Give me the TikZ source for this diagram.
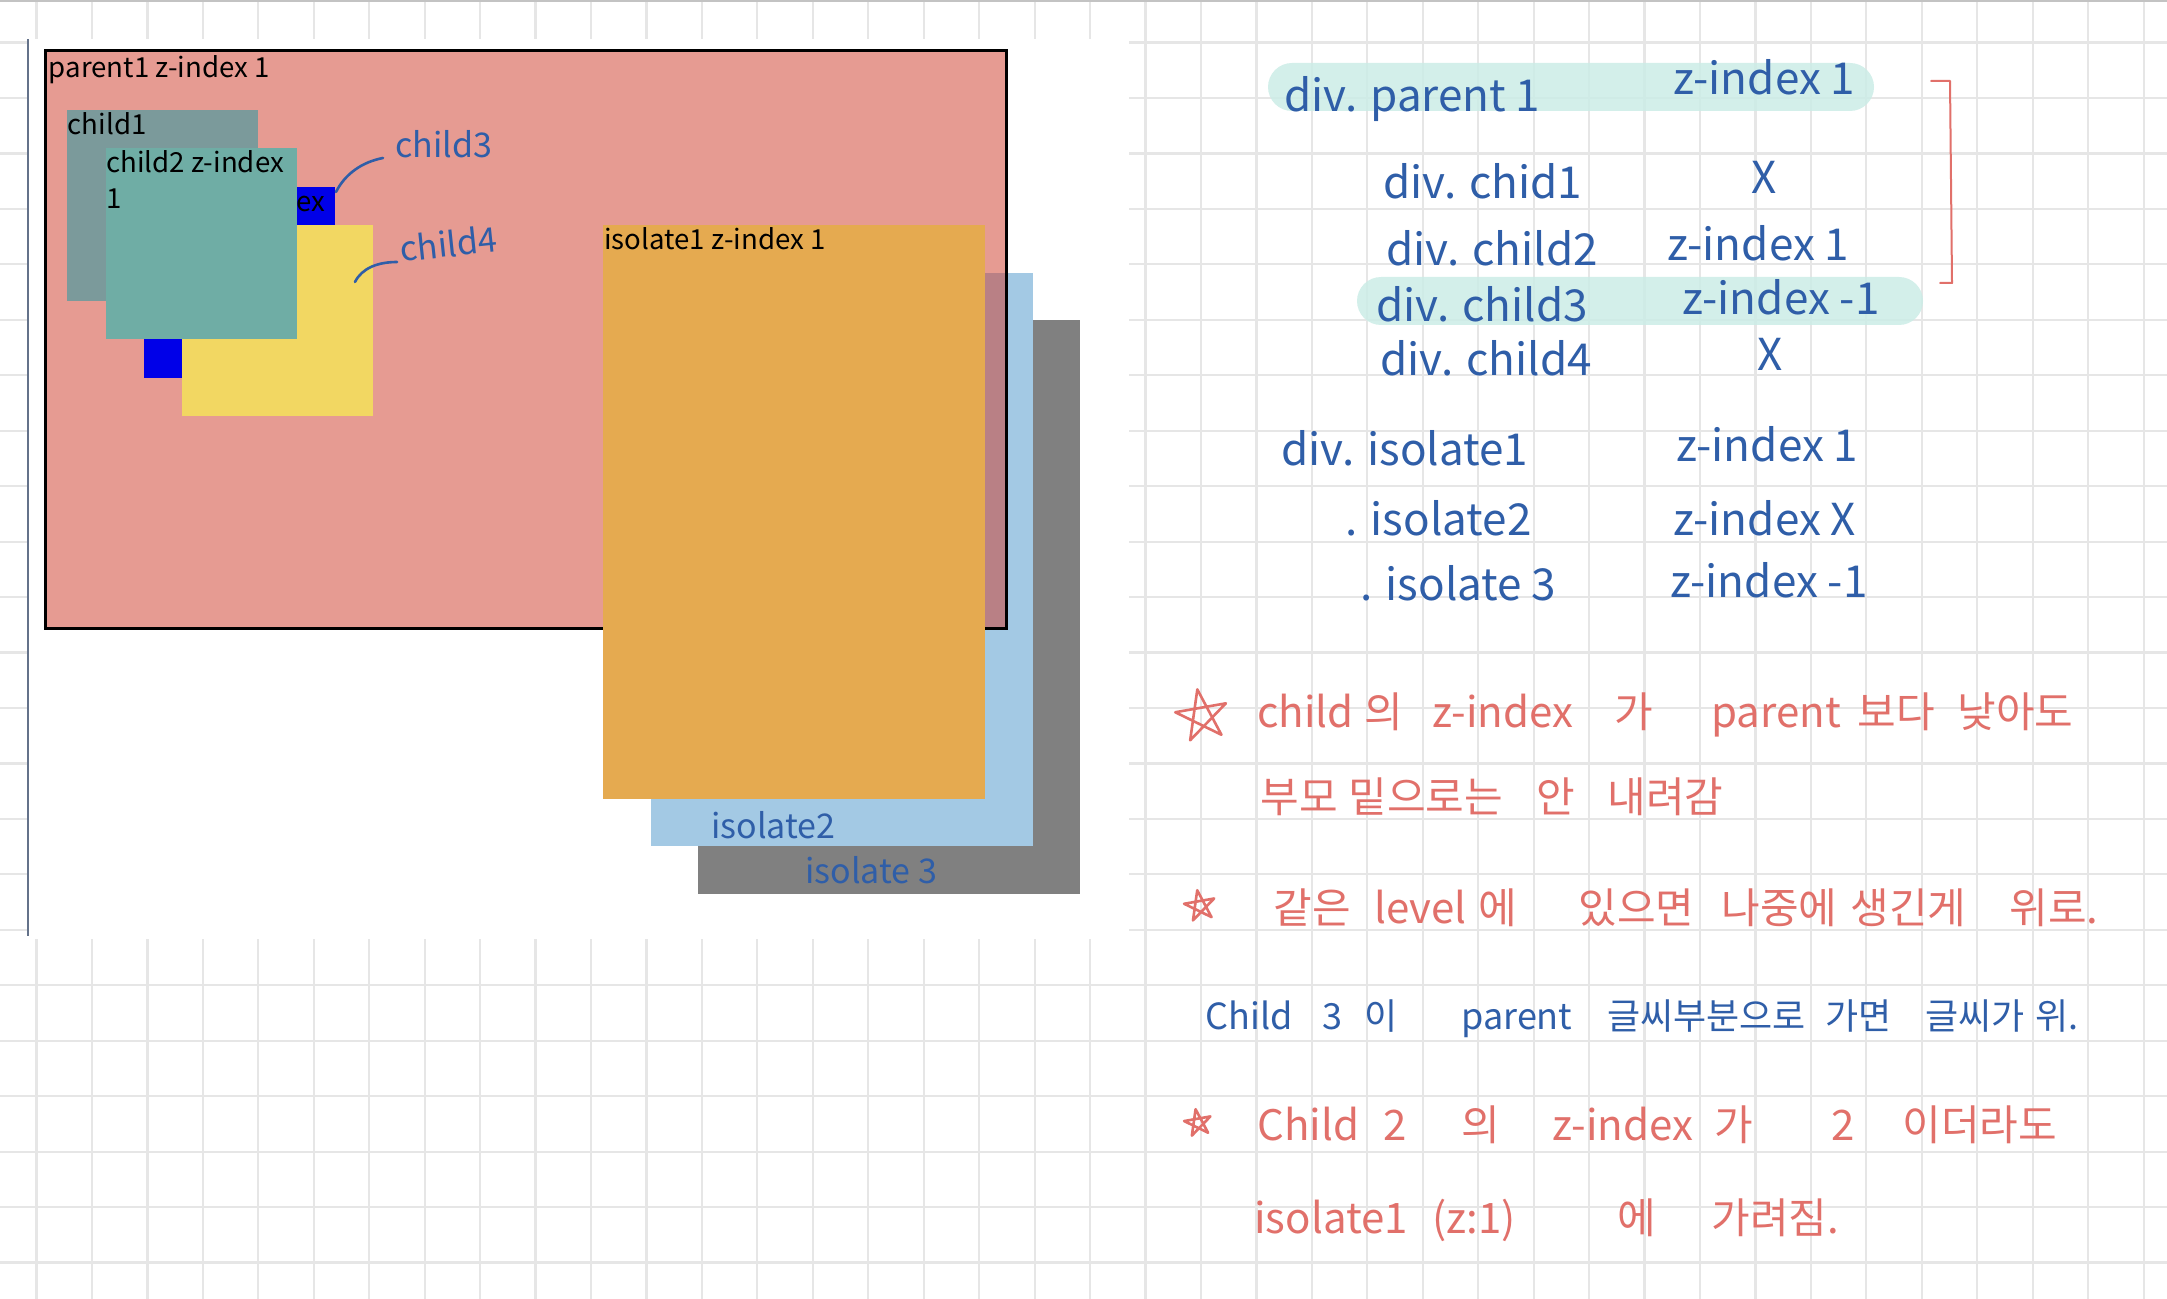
\documentclass[tikz,border=0pt]{standalone}
\usepackage{fontspec}
\setmainfont{Noto Sans CJK KR}
\usetikzlibrary{positioning}

\definecolor{gridgray}{RGB}{230,230,230}
\definecolor{topgray}{RGB}{195,195,195}
\definecolor{slate}{RGB}{100,114,138}
\definecolor{parentred}{RGB}{207,57,39}
\definecolor{childgray}{RGB}{123,154,155}
\definecolor{childteal}{RGB}{111,173,165}
\definecolor{childblue}{RGB}{0,0,232}
\definecolor{childyellow}{RGB}{242,215,98}
\definecolor{isoorange}{RGB}{229,170,80}
\definecolor{isoblue}{RGB}{163,201,228}
\definecolor{isogray}{RGB}{128,128,128}
\definecolor{inkblue}{RGB}{47,94,168}
\definecolor{inkred}{RGB}{225,112,106}
\definecolor{hilitegreen}{RGB}{204,237,231}

% hand drawn star in front of a note: x, y, radius
\newcommand\notestar[3]{%
  \draw[inkline, inkred] (#1,#2) +(-100:#3) -- +(44:#3) -- +(188:#3) -- +(-28:#3) -- +(116:#3) -- cycle;}
% one word of a hand written line, in a slot of fixed width
\newcommand\wordat[2]{\makebox[#1][l]{#2}}

\begin{document}
\begin{tikzpicture}[x=0.5pt, y=-0.5pt,
  gridline/.style={draw=gridgray, line width=1.1pt},
  shot/.style={anchor=north west, inner sep=0pt, outer sep=0pt},
  childbox/.style={shot, minimum width=95.5pt, minimum height=95.5pt},
  isobox/.style={shot, minimum width=191pt, minimum height=286.8pt},
  boxlabel/.style={anchor=base west, inner sep=0pt, font=\fontsize{13.8pt}{18pt}\selectfont},
  hand/.style={anchor=base west, inner sep=0pt, text=inkblue, font=\fontsize{22pt}{26pt}\selectfont},
  note/.style={hand, text=inkred, font=\fontsize{21pt}{26pt}\selectfont},
  tag/.style={hand, font=\fontsize{17pt}{20pt}\selectfont},
  inkline/.style={line width=1.3pt, line cap=round, line join=round},
  hilite/.style={fill=hilitegreen, fill opacity=0.85, rounded corners=12pt},
]
  \useasboundingbox (0,0) rectangle (2167,1299);

  % grid paper
  \fill[white] (0,0) rectangle (2167,1299);
  \foreach \k in {0,...,38}
    \draw[gridline] ({36.5+55.45*\k},0) -- ({36.5+55.45*\k},1299);
  \foreach \k in {0,...,22}
    \draw[gridline] (0,{42.6+55.45*\k}) -- (2167,{42.6+55.45*\k});
  \draw[topgray, line width=1pt] (0,1) -- (2167,1);

  % screenshot
  \fill[white] (26.7,39.3) rectangle (1129,939);
  \draw[slate, line width=1.15pt] (27.9,39.3) -- (27.9,936);

  \node[isobox, fill=isogray] (isolate3) at (698,320.5) {};
  \node[isobox, fill=isoblue] (isolate2) at (651,272.7) {};
  \node[shot, draw=black, line width=1.65pt, fill=parentred, fill opacity=0.5,
        minimum width=480.5pt, minimum height=288.9pt] (parent1) at (45.7,50.7) {};
  \node[boxlabel] (parent1txt) at (48.5,77.5) {parent1 z-index 1};

  \node[childbox, fill=childgray] (child1) at (67.2,110) {};
  \node[boxlabel] (child1txt) at (67.5,135) {child1};
  \node[childbox, fill=childblue] (child3) at (143.6,186.7) {};
  \node[boxlabel, anchor=base east] (child3txt) at (326,211.5) {ex};
  \node[childbox, fill=childyellow] (child4) at (182.1,225) {};
  \node[childbox, fill=childteal] (child2) at (105.7,148) {};
  \node[boxlabel] (child2txt) at (106,172.7) {child2 z-index};
  \node[boxlabel] (child2txtb) at (106,208.5) {1};

  \node[isobox, fill=isoorange] (isolate1) at (603,225) {};
  \node[boxlabel] (isolate1txt) at (604,250) {isolate1 z-index 1};

  % hand written tags on the screenshot
  \node[tag] (c3note) at (395,158) {child3};
  \node[tag, rotate=6] (c4note) at (401,262) {child4};
  \coordinate (c3tip) at (336,192);
  \coordinate (c4tip) at (355,282);
  \draw[inkline, inkblue] (c3tip) .. controls (345,174) and (362,162) .. ([xshift=-6pt]c3note.base west);
  \draw[inkline, inkblue] (c4tip) .. controls (362,268) and (378,262) .. ([xshift=-2pt]c4note.base west);
  \node[tag] (iso2note) at (711,838) {isolate2};
  \node[tag] (iso3note) at (805,883) {isolate 3};

  % z-index list
  \fill[hilite] (1268,63) rectangle (1874,111);
  \fill[hilite] (1357,277) rectangle (1923,325);
  \node[hand] (rowparent) at (1284,112) {div. parent 1};
  \node[hand] (zparent) at (1673,95) {z-index 1};
  \node[hand] (rowchild1) at (1383,199) {div. chid1};
  \node[hand, anchor=base] (zchild1) at (1764,194) {X};
  \node[hand] (rowchild2) at (1386,266) {div. child2};
  \node[hand] (zchild2) at (1667,261) {z-index 1};
  \node[hand] (rowchild3) at (1376,322) {div. child3};
  \node[hand] (zchild3) at (1682,315) {z-index -1};
  \node[hand] (rowchild4) at (1380,376) {div. child4};
  \node[hand, anchor=base] (zchild4) at (1770,371) {X};
  \node[hand] (rowiso1) at (1281,466) {div. isolate1};
  \node[hand] (ziso1) at (1676,461) {z-index 1};
  \node[hand] (rowiso2) at (1345,535) {. isolate2};
  \node[hand] (ziso2) at (1673,535) {z-index X};
  \node[hand] (rowiso3) at (1360,600) {. isolate 3};
  \node[hand] (ziso3) at (1670,597) {z-index -1};
  \draw[inkline, inkred, line width=1pt] (1931,81) -- (1950,81) -- (1952,283) -- (1940,283);

  % notes
  \notestar{1202}{716}{27}
  \node[note] (note1) at (1257,727) {\wordat{53.5pt}{child}\wordat{34pt}{의}\wordat{91pt}{z-index}\wordat{48.5pt}{가}\wordat{73pt}{parent}\wordat{50pt}{보다}낮아도};
  \node[note] (note2) at (1260,812) {\wordat{44pt}{부모}\wordat{94pt}{밑으로는}\wordat{35.5pt}{안}내려감};
  \notestar{1200}{906}{16}
  \node[note] (note3) at (1273,923) {\wordat{50.5pt}{같은}\wordat{52pt}{level}\wordat{50pt}{에}\wordat{71.5pt}{있으면}\wordat{64.5pt}{나중에}\wordat{79.5pt}{생긴게}위로.};
  \node[hand, font=\fontsize{18pt}{22pt}\selectfont] (note4) at (1205,1029) {\wordat{58.5pt}{Child}\wordat{21pt}{3}\wordat{48.5pt}{이}\wordat{73pt}{parent}\wordat{109pt}{글씨부분으로}\wordat{50pt}{가면}\wordat{55pt}{글씨가}위.};
  \notestar{1198}{1123}{14}
  \node[note] (note5) at (1257,1140) {\wordat{63pt}{Child}\wordat{39pt}{2}\wordat{45.5pt}{의}\wordat{81pt}{z-index}\wordat{58.5pt}{가}\wordat{35.5pt}{2}이더라도};
  \node[note] (note6) at (1254,1233) {\wordat{89pt}{isolate1}\wordat{92.5pt}{(z:1)}\wordat{47pt}{에}가려짐.};
\end{tikzpicture}
\end{document}
